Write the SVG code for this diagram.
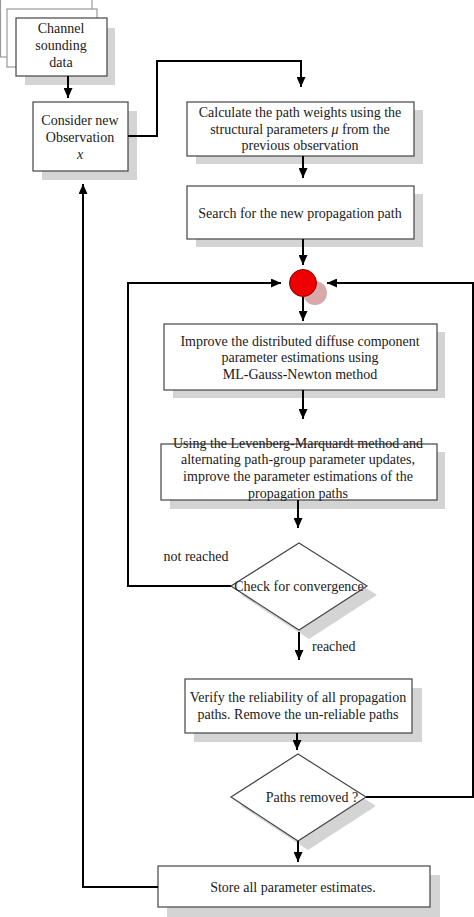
<svg xmlns="http://www.w3.org/2000/svg" width="474" height="917" viewBox="0 0 474 917">
<defs>
<marker id="ah" markerUnits="userSpaceOnUse" markerWidth="10" markerHeight="9" refX="10" refY="4.5" orient="auto" viewBox="0 0 10 9">
<path d="M0,0 L10,4.5 L0,9 z" fill="#000"/>
</marker>
</defs>
<style>
.box{fill:#fff;stroke:#444;stroke-width:1.2}
.back{fill:#fff;stroke:#999;stroke-width:1.2}
.sh{fill:#d4d4d4}
.t{font-family:"Liberation Serif","Times New Roman",serif;font-size:14px;fill:#1a1a1a;text-anchor:middle}
.c{fill:none;stroke:#000;stroke-width:2}
.ca{fill:none;stroke:#000;stroke-width:2;marker-end:url(#ah)}
</style>
<rect width="474" height="917" fill="#fff"/>

<g id="channel">
<rect class="back" x="0.5" y="-5" width="91.5" height="62"/>
<rect class="back" x="7" y="9" width="90" height="58"/>
<rect class="sh" x="25" y="28" width="90" height="57"/>
<rect class="box" x="16" y="18" width="91" height="58"/>
<text class="t" x="61" y="33">Channel</text>
<text class="t" x="61" y="50">sounding</text>
<text class="t" x="61" y="67">data</text>
</g>

<g id="consider">
<rect class="sh" x="42" y="111" width="95" height="69"/>
<rect class="box" x="33" y="102" width="95" height="69"/>
<text class="t" x="80" y="125">Consider new</text>
<text class="t" x="80" y="142">Observation</text>
<text class="t" x="80" y="159" font-style="italic">x</text>
</g>

<g id="calculate">
<rect class="sh" x="196" y="110" width="227" height="54"/>
<rect class="box" x="187" y="102" width="227" height="54"/>
<text class="t" x="300" y="117">Calculate the path weights using the</text>
<text class="t" x="300" y="134">structural parameters <tspan font-style="italic">μ</tspan> from the</text>
<text class="t" x="300" y="150">previous observation</text>
</g>

<g id="search">
<rect class="sh" x="196" y="194" width="227" height="53"/>
<rect class="box" x="187" y="186" width="227" height="53"/>
<text class="t" x="300" y="218">Search for the new propagation path</text>
</g>

<g id="junction">
<circle cx="315" cy="293" r="12" fill="#d9a9a9"/>
<circle cx="303" cy="283" r="13.5" fill="#ee0000" stroke="#8a0000" stroke-width="1"/>
</g>

<g id="improve">
<rect class="sh" x="173" y="332" width="272" height="66"/>
<rect class="box" x="164" y="324" width="273" height="66"/>
<text class="t" x="300" y="346">Improve the distributed diffuse component</text>
<text class="t" x="300" y="362">parameter estimations using</text>
<text class="t" x="300" y="379">ML-Gauss-Newton method</text>
</g>

<g id="using">
<rect class="sh" x="170" y="452" width="275" height="57"/>
<rect class="box" x="161" y="444" width="276" height="56"/>
<text class="t" x="298" y="448">Using the Levenberg-Marquardt method and</text>
<text class="t" x="298" y="464">alternating path-group parameter updates,</text>
<text class="t" x="298" y="481">improve the parameter estimations of the</text>
<text class="t" x="298" y="498">propagation paths</text>
</g>

<g id="check">
<polygon class="sh" points="309,552 377,595 309,639 241,595"/>
<polygon class="box" points="299,543 367,586 299,630 231,586"/>
<text class="t" x="299" y="591">Check for convergence</text>
</g>

<g id="verify">
<rect class="sh" x="194" y="688" width="228" height="54"/>
<rect class="box" x="185" y="679" width="227" height="54"/>
<text class="t" x="298" y="702">Verify the reliability of all propagation</text>
<text class="t" x="298" y="719">paths. Remove the un-reliable paths</text>
</g>

<g id="removed">
<polygon class="sh" points="308,763 376,806 308,850 241,806"/>
<polygon class="box" points="298,754 366,797 298,841 231,797"/>
<text class="t" x="312" y="802">Paths removed ?</text>
</g>

<g id="store">
<rect class="sh" x="167" y="875" width="273" height="42"/>
<rect class="box" x="158" y="866" width="272" height="41"/>
<text class="t" x="293" y="892">Store all parameter estimates.</text>
</g>

<g id="connectors">
<line class="ca" x1="68" y1="76" x2="68" y2="98"/>
<polyline class="ca" points="128,136 157,136 157,61 301,61 301,87"/>
<line class="ca" x1="303" y1="156" x2="303" y2="178"/>
<line class="ca" x1="303" y1="239" x2="303" y2="265"/>
<line class="ca" x1="303" y1="297" x2="303" y2="321"/>
<line class="ca" x1="303" y1="390" x2="303" y2="419"/>
<line class="ca" x1="298" y1="500" x2="298" y2="528"/>
<polyline class="ca" points="231,586 128,586 128,283 281,283"/>
<line class="ca" x1="299" y1="632" x2="299" y2="660"/>
<line class="ca" x1="297" y1="733" x2="297" y2="750"/>
<polyline class="ca" points="366,797 473,797 473,283 327,283"/>
<line class="ca" x1="298" y1="841" x2="298" y2="862"/>
<polyline class="ca" points="158,887 83,887 83,184"/>
<text class="t" x="196" y="561">not reached</text>
<text class="t" x="312" y="651" style="text-anchor:start">reached</text>
</g>
</svg>
